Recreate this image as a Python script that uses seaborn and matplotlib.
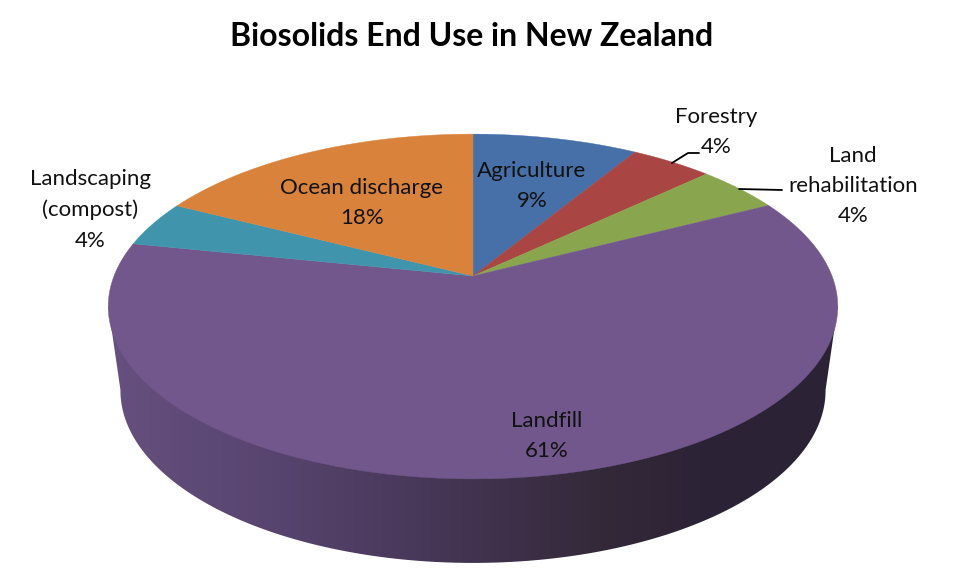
import numpy as np
import matplotlib
matplotlib.use("Agg")
import matplotlib.pyplot as plt
from matplotlib.colors import LinearSegmentedColormap
from matplotlib.patches import Polygon
from matplotlib.transforms import Affine2D
import seaborn as sns

categories = ["Agriculture", "Forestry", "Land\nrehabilitation", "Landfill",
              "Landscaping\n(compost)", "Ocean discharge"]
values = [8.7, 4.3, 4.45, 60.75, 4.3, 17.5]
title = "Biosolids End Use in New Zealand"

colors = sns.color_palette(["#4670A7", "#A94543", "#89A64E", "#71578C", "#4095AD", "#D8823C"])
# label centres in pixels
label_pos = [(532, 186), (716, 132), (853, 186), (547, 436), (90, 210), (362, 203)]

sns.set_theme(style="white")
plt.rcParams["font.family"] = ["Lato", "DejaVu Sans"]

fig = plt.figure(figsize=(9.6, 5.77), dpi=100)
ax = fig.add_axes([0, 0, 1, 1])

# pie on the unit circle, then tilted with a perspective map below
wedges, _ = ax.pie(values, startangle=90, counterclock=False, colors=colors)


def project(xy, a, b, k, cy):
    u, v = xy[:, 0], xy[:, 1]
    d = 1 + k * v
    return np.column_stack([473 + a * u / d, cy - b * v / d])


top = dict(a=359, b=167, k=0.177, cy=276)
low = dict(a=347, b=167, k=0.177, cy=360)

# side wall: lower half of the bottom rim joined to the widest points of the top rim
th = np.linspace(0, 2 * np.pi, 721)
circle = np.column_stack([np.cos(th), np.sin(th)])
rim_top = project(circle, **top)
rim_low = project(circle, **low)
i_l = rim_low[:, 0].argmin()
lower = np.array(sorted(rim_low[rim_low[:, 1] >= rim_low[i_l, 1]].tolist()))
wall = np.vstack([rim_top[rim_top[:, 0].argmin()], lower, rim_top[rim_top[:, 0].argmax()]])
wall_patch = Polygon(wall, closed=True, fc="none", ec="none")
ax.add_patch(wall_patch)

stops = [(108, "#66507F"), (290, "#56436D"), (473, "#423350"), (600, "#342939"),
         (700, "#2D2336"), (838, "#2C2236")]
cmap = LinearSegmentedColormap.from_list(
    "wall", [((x - 108) / 730, c) for x, c in stops])
img = ax.imshow(np.linspace(0, 1, 512)[None, :], cmap=cmap, extent=(108, 838, 577, 200),
                aspect="auto", zorder=1)
img.set_clip_path(wall_patch)

for w in wedges:
    path = w.get_patch_transform().transform_path(w.get_path())
    poly = path.to_polygons(Affine2D().scale(500))[0] / 500
    ax.add_patch(Polygon(project(poly, **top), closed=True, fc=w.get_facecolor(),
                         ec=w.get_facecolor(), lw=0.3, zorder=2))
    w.remove()

for name, val, (x, y) in zip(categories, values, label_pos):
    ax.text(x, y, f"{name}\n{val:.0f}%", ha="center", va="center", fontsize=16,
            color="#111111", linespacing=1.65, zorder=4)

# leader lines
ax.plot([672, 688, 699], [163, 153, 153], color="black", lw=1.3, zorder=3)
ax.plot([739, 782], [189, 190], color="black", lw=1.3, zorder=3)

ax.text(472, 36, title, ha="center", va="center", fontsize=23, fontweight="bold",
        color="black")

ax.set_aspect("auto")
ax.set_xlim(0, 960)
ax.set_ylim(577, 0)
ax.axis("off")

fig.savefig("out.png", dpi=100, facecolor="white")
